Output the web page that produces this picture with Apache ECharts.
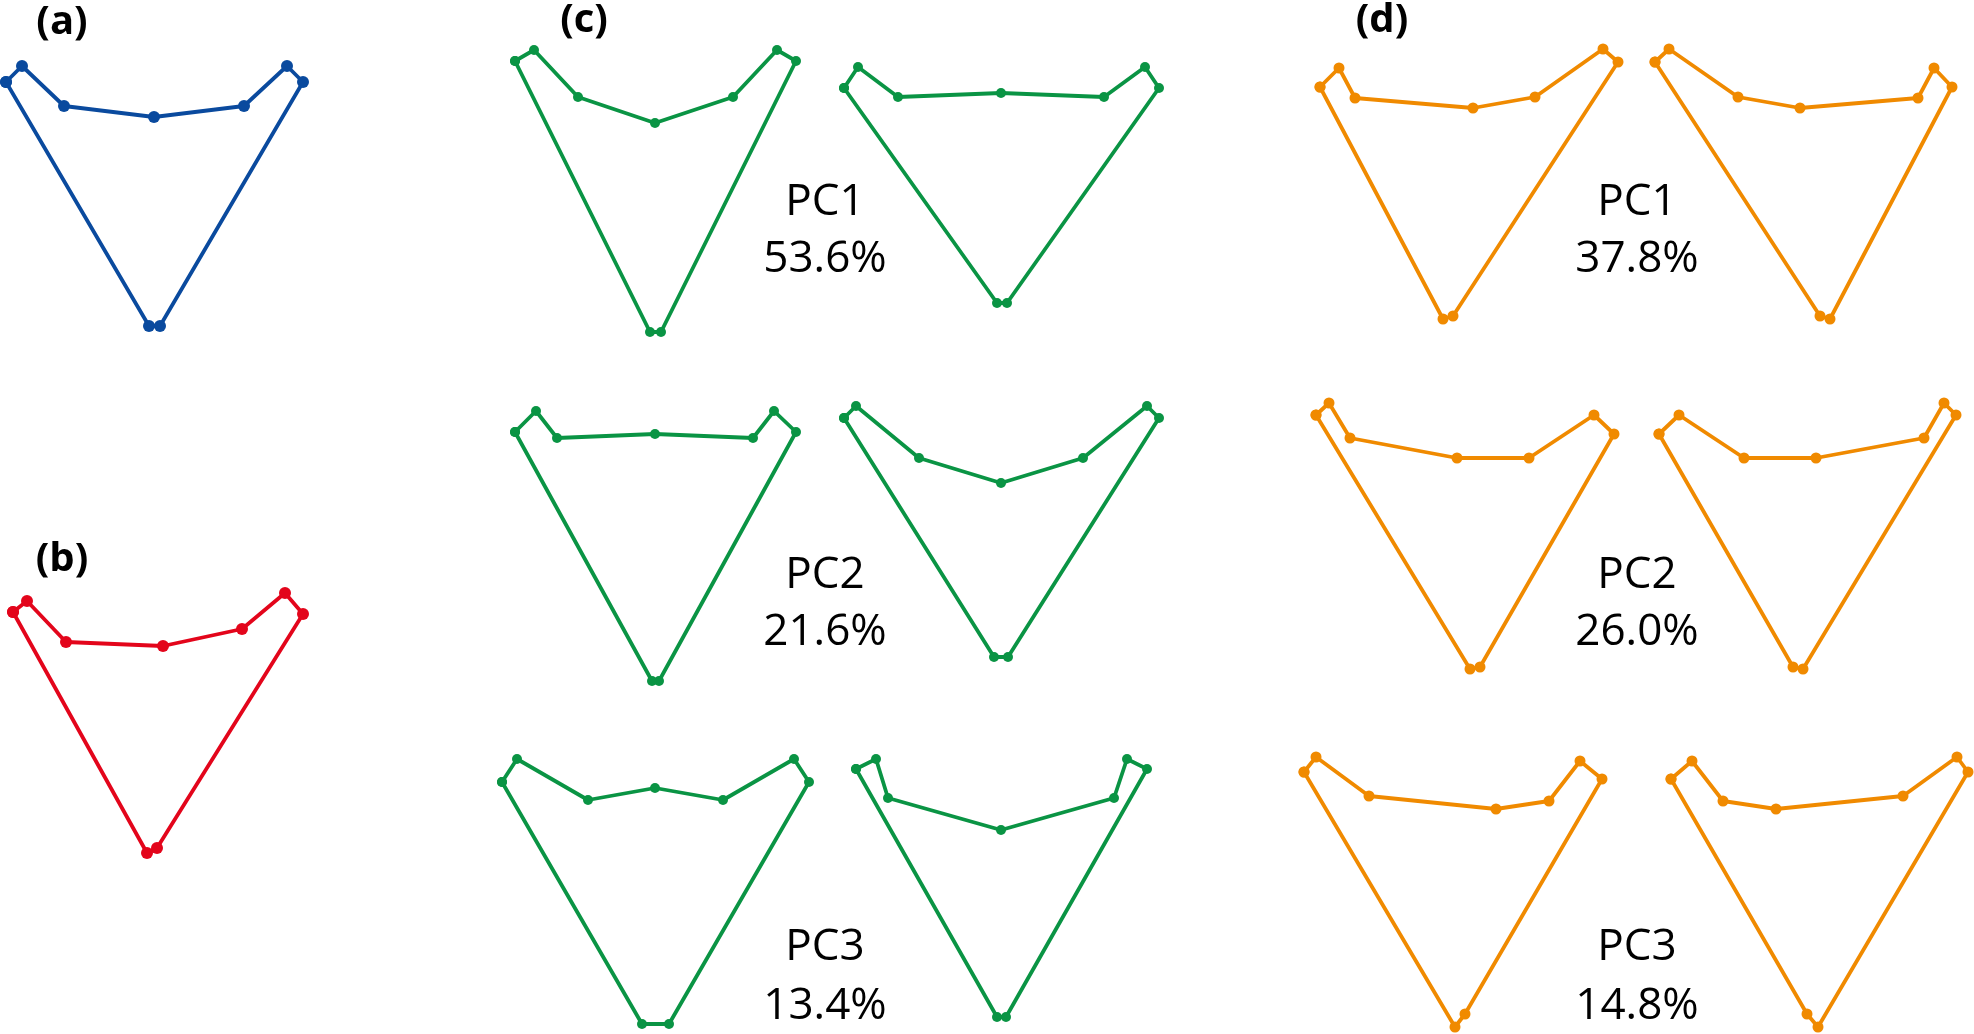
<!DOCTYPE html>
<html>
<head>
<meta charset="utf-8">
<script src="https://cdn.jsdelivr.net/npm/echarts@6/dist/echarts.min.js"></script>
<style>
html,body{margin:0;padding:0;background:#fff;}
#chart{width:1974px;height:1034px;}
</style>
</head>
<body>
<div id="chart"></div>
<script>
// Landmark order: outer-left, top-left, inner-left, centre, inner-right, top-right, outer-right, bottom-right, bottom-left
// (a) mean shape
const shapeA = [[6,42],[22,26],[64,66],[154,77],[244,66],[287,26],[303,42],[160,286],[149,286]];
// (b) specimen
const shapeB = [[13,32],[27,21],[66,62],[163,66],[242,49],[285,13],[303,34],[157,268],[147,273]];
// (c) PC extremes
const cPC1neg = [[25,31],[44,20],[88,67],[165,93],[243,67],[287,20],[306,31],[171,302],[160,302]];
const cPC1pos = [[14,58],[28,37],[68,67],[171,63],[274,67],[315,37],[329,58],[177,273],[167,273]];
const cPC2neg = [[25,42],[46,21],[67,48],[165,44],[263,48],[284,21],[306,42],[169,291],[162,291]];
const cPC2pos = [[14,28],[26,16],[89,68],[171,93],[253,68],[317,16],[329,28],[178,267],[164,267]];
const cPC3neg = [[12,42],[27,19],[98,60],[165,48],[233,60],[304,19],[319,42],[179,284],[152,284]];
const cPC3pos = [[26,29],[46,19],[58,58],[171,90],[284,58],[297,19],[317,29],[176,277],[167,277]];
// (d) PC extremes
const dPC1neg = [[30,57],[49,38],[65,68],[183,78],[245,67],[313,19],[328,32],[163,286],[153,289]];
const dPC1pos = [[15,32],[29,19],[98,67],[160,78],[278,68],[294,38],[312,57],[190,289],[180,286]];
const dPC2neg = [[26,25],[39,13],[60,48],[167,68],[239,68],[304,25],[324,44],[190,277],[180,279]];
const dPC2pos = [[19,44],[39,25],[104,68],[176,68],[284,48],[304,13],[316,25],[163,279],[153,277]];
const dPC3neg = [[14,32],[26,17],[79,56],[206,69],[259,61],[290,21],[312,39],[175,274],[165,287]];
const dPC3pos = [[31,39],[52,21],[83,61],[136,69],[263,56],[317,17],[328,32],[178,287],[167,274]];

const pcLabelsC = ['PC1','PC2','PC3'];
const pcValuesC = ['53.6%','21.6%','13.4%'];
const pcLabelsD = ['PC1','PC2','PC3'];
const pcValuesD = ['37.8%','26.0%','14.8%'];
const panelLetters = ['(a)','(b)','(c)','(d)'];

// colours / layout (kept separate from data)
const BLUE = '#0a4a9e', RED = '#e3051b', GREEN = '#0a9444', ORANGE = '#f08a00';
const panels = [
  {data: shapeA,  color: BLUE,   box: [0, 40, 330, 320],    sym: 12},
  {data: shapeB,  color: RED,    box: [0, 580, 330, 320],   sym: 12},
  {data: cPC1neg, color: GREEN,  box: [490, 30, 330, 320],  sym: 10},
  {data: cPC1pos, color: GREEN,  box: [830, 30, 330, 320],  sym: 10},
  {data: cPC2neg, color: GREEN,  box: [490, 390, 330, 320], sym: 10},
  {data: cPC2pos, color: GREEN,  box: [830, 390, 330, 320], sym: 10},
  {data: cPC3neg, color: GREEN,  box: [490, 740, 330, 290], sym: 10},
  {data: cPC3pos, color: GREEN,  box: [830, 740, 330, 290], sym: 10},
  {data: dPC1neg, color: ORANGE, box: [1290, 30, 330, 320], sym: 11},
  {data: dPC1pos, color: ORANGE, box: [1640, 30, 330, 320], sym: 11},
  {data: dPC2neg, color: ORANGE, box: [1290, 390, 330, 320], sym: 11},
  {data: dPC2pos, color: ORANGE, box: [1640, 390, 330, 320], sym: 11},
  {data: dPC3neg, color: ORANGE, box: [1290, 740, 330, 290], sym: 11},
  {data: dPC3pos, color: ORANGE, box: [1640, 740, 330, 290], sym: 11}
];

const grids = [], xAxes = [], yAxes = [], series = [];
panels.forEach((p, i) => {
  const [ox, oy, w, h] = p.box;
  grids.push({left: ox, top: oy, width: w, height: h, containLabel: false, outerBoundsMode: 'none', show: false});
  xAxes.push({type: 'value', gridIndex: i, min: 0, max: w, show: false});
  yAxes.push({type: 'value', gridIndex: i, min: 0, max: h, inverse: true, show: false});
  series.push({
    type: 'line', xAxisIndex: i, yAxisIndex: i,
    data: p.data.concat([p.data[0]]),
    symbol: 'circle', symbolSize: p.sym, showSymbol: true,
    clip: false, silent: true,
    lineStyle: {color: p.color, width: 3.8, join: 'round'},
    itemStyle: {color: p.color, borderWidth: 0}
  });
});

const FONT = '"Open Sans", "Noto Sans", sans-serif';
const texts = [];
const letterPos = [[62, 23], [62, 560], [584, 21], [1382, 21]];
panelLetters.forEach((t, i) => {
  texts.push({type: 'text', x: letterPos[i][0], y: letterPos[i][1],
    style: {text: t, fill: '#000', font: 'bold 40px ' + FONT, textAlign: 'center', textVerticalAlign: 'middle'}});
});
const rowY = [[202, 259], [575, 632], [947, 1006]];
function addPC(labels, values, cx) {
  labels.forEach((l, r) => {
    texts.push({type: 'text', x: cx, y: rowY[r][0],
      style: {text: l, fill: '#000', font: '44px ' + FONT, textAlign: 'center', textVerticalAlign: 'middle'}});
    texts.push({type: 'text', x: cx, y: rowY[r][1],
      style: {text: values[r], fill: '#000', font: '44px ' + FONT, textAlign: 'center', textVerticalAlign: 'middle'}});
  });
}
addPC(pcLabelsC, pcValuesC, 825);
addPC(pcLabelsD, pcValuesD, 1637);

const chart = echarts.init(document.getElementById('chart'), null, {renderer: 'canvas'});
chart.setOption({
  animation: false,
  backgroundColor: '#fff',
  grid: grids, xAxis: xAxes, yAxis: yAxes, series: series,
  graphic: {elements: texts}
});
</script>
</body>
</html>
